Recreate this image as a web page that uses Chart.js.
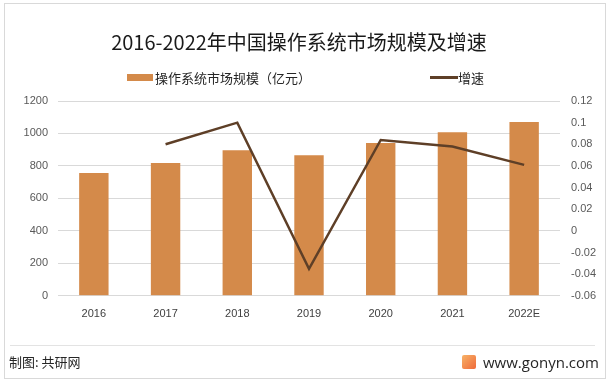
<!DOCTYPE html>
<html>
<head>
<meta charset="utf-8">
<script src="https://cdn.jsdelivr.net/npm/chart.js@4/dist/chart.umd.min.js"></script>
<style>
  html, body { margin: 0; padding: 0; background: #fff; }
  #wrap { position: relative; width: 613px; height: 384px; overflow: hidden; background: #fff; }
  #frame { position: absolute; left: 4px; top: 3px; width: 602px; height: 376px; border: 1px solid #d9d9d9; box-sizing: border-box; }
  canvas { position: absolute; left: 0; top: 0; }
  .txt { position: absolute; white-space: nowrap; font-family: "Noto Sans CJK SC", "Noto Sans", sans-serif; color: #1a1a1a; }
  #title { left: 0; width: 598px; top: 28px; text-align: center; font-size: 20px; line-height: 28px; }
  .sw { position: absolute; }
  #sep { position: absolute; left: 10px; top: 345px; width: 585px; height: 1px; background: #e3e3e3; }
  #logo { position: absolute; left: 462px; top: 355px; width: 14px; height: 14px; border-radius: 2px;
          background: linear-gradient(135deg, #f7b267, #ef6a3a); }
</style>
</head>
<body>
<div id="wrap">
  <div id="frame"></div>
  <canvas id="c" width="613" height="384"></canvas>
  <div id="title" class="txt">2016-2022年中国操作系统市场规模及增速</div>
  <div class="sw" style="left:127px;top:74px;width:26px;height:7px;background:#D48A4A;"></div>
  <div class="txt" id="lg1" style="left:155px;top:68px;font-size:13px;line-height:19px;color:#262626;"></div>
  <div class="sw" style="left:430px;top:76px;width:28px;height:3px;background:#5E3F27;"></div>
  <div class="txt" id="lg2" style="left:458px;top:68px;font-size:13px;line-height:19px;color:#262626;"></div>
  <div id="sep"></div>
  <div class="txt" style="left:9px;top:353px;font-size:13px;line-height:18px;color:#262626;">制图: 共研网</div>
  <div id="logo"></div>
  <div class="txt" style="left:483px;top:352px;font-size:15px;line-height:20px;color:#262626;font-family:'Open Sans','Noto Sans',sans-serif;">www.gonyn.com</div>
</div>
<script>
const categories = ["2016", "2017", "2018", "2019", "2020", "2021", "2022E"];
const marketSize = [756, 818, 897, 866, 942, 1008, 1070];
const growthRate = [null, 0.08, 0.10, -0.035, 0.084, 0.078, 0.061];
const seriesNames = ["操作系统市场规模（亿元）", "增速"];
const leftTicks = { min: 0, max: 1200, step: 200 };
const rightTicks = { min: -0.06, max: 0.12, step: 0.02 };

document.getElementById('lg1').textContent = seriesNames[0];
document.getElementById('lg2').textContent = seriesNames[1];

const tickFont = { family: "'Liberation Sans', 'Noto Sans', sans-serif", size: 11 };

new Chart(document.getElementById('c'), {
  data: {
    labels: categories,
    datasets: [
      {
        type: 'line',
        label: seriesNames[1],
        data: growthRate,
        yAxisID: 'y1',
        borderColor: '#5E3F27',
        backgroundColor: '#5E3F27',
        borderWidth: 2.5,
        pointRadius: 0,
        tension: 0,
        order: 0
      },
      {
        type: 'bar',
        label: seriesNames[0],
        data: marketSize,
        yAxisID: 'y',
        backgroundColor: '#D48A4A',
        categoryPercentage: 1.0,
        barPercentage: 0.41,
        order: 1
      }
    ]
  },
  options: {
    responsive: false,
    animation: false,
    layout: { padding: { left: 22, right: 0, top: 101, bottom: 51 } },
    plugins: { legend: { display: false }, title: { display: false }, tooltip: { enabled: false } },
    scales: {
      x: {
        grid: { display: false, drawTicks: false },
        border: { display: false },
        ticks: { color: '#404040', font: tickFont, padding: 12 }
      },
      y: {
        position: 'left',
        min: leftTicks.min, max: leftTicks.max,
        grid: { color: '#d9d9d9', drawTicks: false, lineWidth: 1 },
        border: { display: false },
        ticks: { stepSize: leftTicks.step, color: '#595959', font: tickFont, padding: 10,
          callback: (v) => String(v) },
        afterFit: (s) => { s.width = 36; }
      },
      y1: {
        position: 'right',
        min: rightTicks.min, max: rightTicks.max,
        grid: { display: false, drawTicks: false },
        border: { display: false },
        ticks: {
          stepSize: rightTicks.step, color: '#595959', font: tickFont, padding: 11,
          callback: (v) => String(parseFloat(v.toFixed(2)))
        },
        afterFit: (s) => { s.width = 53; }
      }
    }
  }
});
</script>
</body>
</html>
